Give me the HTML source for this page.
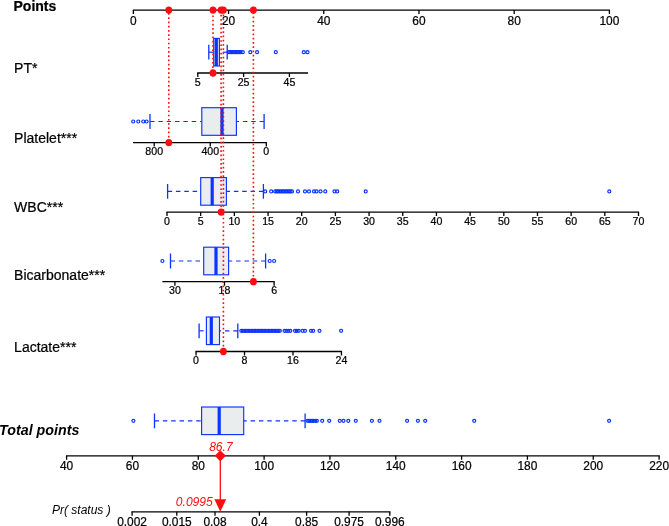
<!DOCTYPE html>
<html><head><meta charset="utf-8"><title>Nomogram</title>
<style>html,body{margin:0;padding:0;background:#fff}svg{display:block}text{font-family:"Liberation Sans",Arial,sans-serif;stroke-width:0.22px;paint-order:stroke}</style>
</head><body>
<svg width="669" height="526" viewBox="0 0 669 526">
<rect width="669" height="526" fill="#fff"/>
<text x="13.5" y="10.6" font-size="14" fill="#000" stroke="#000" font-weight="bold">Points</text>
<text x="14.1" y="73.2" font-size="14" fill="#000" stroke="#000" >PT*</text>
<text x="14.1" y="143.0" font-size="14" fill="#000" stroke="#000" >Platelet***</text>
<text x="14.1" y="211.7" font-size="14" fill="#000" stroke="#000" >WBC***</text>
<text x="14.1" y="280.3" font-size="14" fill="#000" stroke="#000" >Bicarbonate***</text>
<text x="14.1" y="351.6" font-size="14" fill="#000" stroke="#000" >Lactate***</text>
<text x="-0.9" y="434.7" font-size="14.25" fill="#000" font-weight="bold" font-style="italic">Total points</text>
<text x="52" y="513.8" font-size="12" fill="#000" font-style="italic">Pr( status )</text>
<path d="M132.80 10.10H609.95" stroke="#000" stroke-width="1.3" fill="none"/>
<path d="M133.35 10.10v4.0M228.56 10.10v4.0M323.77 10.10v4.0M418.98 10.10v4.0M514.19 10.10v4.0M609.40 10.10v4.0" stroke="#000" stroke-width="1.3" fill="none"/>
<path d="M197.20 73.00H308.00" stroke="#000" stroke-width="1.3" fill="none"/>
<path d="M197.80 73.00v4.0M243.60 73.00v4.0M289.40 73.00v4.0" stroke="#000" stroke-width="1.3" fill="none"/>
<path d="M133.00 142.60H266.90" stroke="#000" stroke-width="1.3" fill="none"/>
<path d="M154.20 142.60v4.0M210.25 142.60v4.0M266.30 142.60v4.0" stroke="#000" stroke-width="1.3" fill="none"/>
<path d="M166.40 212.10H639.10" stroke="#000" stroke-width="1.3" fill="none"/>
<path d="M167.00 212.10v4.0M200.68 212.10v4.0M234.36 212.10v4.0M268.04 212.10v4.0M301.71 212.10v4.0M335.39 212.10v4.0M369.07 212.10v4.0M402.75 212.10v4.0M436.43 212.10v4.0M470.11 212.10v4.0M503.79 212.10v4.0M537.46 212.10v4.0M571.14 212.10v4.0M604.82 212.10v4.0M638.50 212.10v4.0" stroke="#000" stroke-width="1.3" fill="none"/>
<path d="M162.40 281.70H274.70" stroke="#000" stroke-width="1.3" fill="none"/>
<path d="M174.90 281.70v4.0M224.50 281.70v4.0M274.10 281.70v4.0" stroke="#000" stroke-width="1.3" fill="none"/>
<path d="M195.50 351.50H342.00" stroke="#000" stroke-width="1.3" fill="none"/>
<path d="M196.05 351.50v4.0M244.52 351.50v4.0M292.98 351.50v4.0M341.45 351.50v4.0" stroke="#000" stroke-width="1.3" fill="none"/>
<path d="M66.00 455.85H659.70" stroke="#000" stroke-width="1.3" fill="none"/>
<path d="M66.60 455.85v4.0M132.43 455.85v4.0M198.27 455.85v4.0M264.10 455.85v4.0M329.93 455.85v4.0M395.77 455.85v4.0M461.60 455.85v4.0M527.43 455.85v4.0M593.27 455.85v4.0M659.10 455.85v4.0" stroke="#000" stroke-width="1.3" fill="none"/>
<path d="M131.50 511.80H390.40" stroke="#000" stroke-width="1.3" fill="none"/>
<path d="M132.10 511.80v4.0M176.80 511.80v4.0M215.00 511.80v4.0M259.40 511.80v4.0M306.60 511.80v4.0M349.10 511.80v4.0M389.80 511.80v4.0" stroke="#000" stroke-width="1.3" fill="none"/>
<path d="M208.80 52.20H213.70" stroke="#0c33ff" stroke-width="1.15" stroke-dasharray="4.5 3.84" fill="none"/>
<path d="M227.20 52.20H219.40" stroke="#0c33ff" stroke-width="1.15" stroke-dasharray="4.5 3.84" fill="none"/>
<path d="M208.80 44.80v14.8M227.20 44.80v14.8" stroke="#0c33ff" stroke-width="1.3" fill="none"/>
<rect x="213.70" y="38.40" width="5.70" height="27.6" fill="#eaedee" stroke="#0c33ff" stroke-width="1.15"/>
<path d="M216.30 38.40v27.6" stroke="#0c33ff" stroke-width="3.2" fill="none"/>
<circle cx="228.80" cy="52.20" r="1.5" fill="none" stroke="#0c33ff" stroke-width="1.2"/>
<circle cx="230.11" cy="52.20" r="1.5" fill="none" stroke="#0c33ff" stroke-width="1.2"/>
<circle cx="231.42" cy="52.20" r="1.5" fill="none" stroke="#0c33ff" stroke-width="1.2"/>
<circle cx="232.73" cy="52.20" r="1.5" fill="none" stroke="#0c33ff" stroke-width="1.2"/>
<circle cx="234.04" cy="52.20" r="1.5" fill="none" stroke="#0c33ff" stroke-width="1.2"/>
<circle cx="235.36" cy="52.20" r="1.5" fill="none" stroke="#0c33ff" stroke-width="1.2"/>
<circle cx="236.67" cy="52.20" r="1.5" fill="none" stroke="#0c33ff" stroke-width="1.2"/>
<circle cx="237.98" cy="52.20" r="1.5" fill="none" stroke="#0c33ff" stroke-width="1.2"/>
<circle cx="239.29" cy="52.20" r="1.5" fill="none" stroke="#0c33ff" stroke-width="1.2"/>
<circle cx="240.60" cy="52.20" r="1.5" fill="none" stroke="#0c33ff" stroke-width="1.2"/>
<circle cx="242.80" cy="52.20" r="1.5" fill="none" stroke="#0c33ff" stroke-width="1.2"/>
<circle cx="250.30" cy="52.20" r="1.5" fill="none" stroke="#0c33ff" stroke-width="1.2"/>
<circle cx="257.10" cy="52.20" r="1.5" fill="none" stroke="#0c33ff" stroke-width="1.2"/>
<circle cx="275.80" cy="52.20" r="1.5" fill="none" stroke="#0c33ff" stroke-width="1.2"/>
<circle cx="303.80" cy="52.20" r="1.5" fill="none" stroke="#0c33ff" stroke-width="1.2"/>
<circle cx="307.50" cy="52.20" r="1.5" fill="none" stroke="#0c33ff" stroke-width="1.2"/>
<path d="M150.00 121.50H201.80" stroke="#0c33ff" stroke-width="1.15" stroke-dasharray="4.5 3.84" fill="none"/>
<path d="M264.10 121.50H236.40" stroke="#0c33ff" stroke-width="1.15" stroke-dasharray="4.5 3.84" fill="none"/>
<path d="M150.00 114.10v14.8M264.10 114.10v14.8" stroke="#0c33ff" stroke-width="1.3" fill="none"/>
<rect x="201.80" y="107.70" width="34.60" height="27.6" fill="#eaedee" stroke="#0c33ff" stroke-width="1.15"/>
<path d="M222.00 107.70v27.6" stroke="#0c33ff" stroke-width="3.2" fill="none"/>
<circle cx="133.20" cy="121.50" r="1.5" fill="none" stroke="#0c33ff" stroke-width="1.2"/>
<circle cx="138.30" cy="121.50" r="1.5" fill="none" stroke="#0c33ff" stroke-width="1.2"/>
<circle cx="143.30" cy="121.50" r="1.5" fill="none" stroke="#0c33ff" stroke-width="1.2"/>
<circle cx="146.60" cy="121.50" r="1.5" fill="none" stroke="#0c33ff" stroke-width="1.2"/>
<path d="M167.60 191.40H200.70" stroke="#0c33ff" stroke-width="1.15" stroke-dasharray="4.5 3.84" fill="none"/>
<path d="M263.40 191.40H226.40" stroke="#0c33ff" stroke-width="1.15" stroke-dasharray="4.5 3.84" fill="none"/>
<path d="M167.60 184.00v14.8M263.40 184.00v14.8" stroke="#0c33ff" stroke-width="1.3" fill="none"/>
<rect x="200.70" y="177.60" width="25.70" height="27.6" fill="#eaedee" stroke="#0c33ff" stroke-width="1.15"/>
<path d="M212.20 177.60v27.6" stroke="#0c33ff" stroke-width="3.2" fill="none"/>
<circle cx="265.20" cy="191.40" r="1.5" fill="none" stroke="#0c33ff" stroke-width="1.2"/>
<circle cx="271.20" cy="191.40" r="1.5" fill="none" stroke="#0c33ff" stroke-width="1.2"/>
<circle cx="275.20" cy="191.40" r="1.5" fill="none" stroke="#0c33ff" stroke-width="1.2"/>
<circle cx="276.73" cy="191.40" r="1.5" fill="none" stroke="#0c33ff" stroke-width="1.2"/>
<circle cx="278.25" cy="191.40" r="1.5" fill="none" stroke="#0c33ff" stroke-width="1.2"/>
<circle cx="279.78" cy="191.40" r="1.5" fill="none" stroke="#0c33ff" stroke-width="1.2"/>
<circle cx="281.31" cy="191.40" r="1.5" fill="none" stroke="#0c33ff" stroke-width="1.2"/>
<circle cx="282.84" cy="191.40" r="1.5" fill="none" stroke="#0c33ff" stroke-width="1.2"/>
<circle cx="284.36" cy="191.40" r="1.5" fill="none" stroke="#0c33ff" stroke-width="1.2"/>
<circle cx="285.89" cy="191.40" r="1.5" fill="none" stroke="#0c33ff" stroke-width="1.2"/>
<circle cx="287.42" cy="191.40" r="1.5" fill="none" stroke="#0c33ff" stroke-width="1.2"/>
<circle cx="288.95" cy="191.40" r="1.5" fill="none" stroke="#0c33ff" stroke-width="1.2"/>
<circle cx="290.47" cy="191.40" r="1.5" fill="none" stroke="#0c33ff" stroke-width="1.2"/>
<circle cx="292.00" cy="191.40" r="1.5" fill="none" stroke="#0c33ff" stroke-width="1.2"/>
<circle cx="298.00" cy="191.40" r="1.5" fill="none" stroke="#0c33ff" stroke-width="1.2"/>
<circle cx="305.00" cy="191.40" r="1.5" fill="none" stroke="#0c33ff" stroke-width="1.2"/>
<circle cx="309.00" cy="191.40" r="1.5" fill="none" stroke="#0c33ff" stroke-width="1.2"/>
<circle cx="314.00" cy="191.40" r="1.5" fill="none" stroke="#0c33ff" stroke-width="1.2"/>
<circle cx="316.50" cy="191.40" r="1.5" fill="none" stroke="#0c33ff" stroke-width="1.2"/>
<circle cx="320.50" cy="191.40" r="1.5" fill="none" stroke="#0c33ff" stroke-width="1.2"/>
<circle cx="325.30" cy="191.40" r="1.5" fill="none" stroke="#0c33ff" stroke-width="1.2"/>
<circle cx="334.50" cy="191.40" r="1.5" fill="none" stroke="#0c33ff" stroke-width="1.2"/>
<circle cx="337.20" cy="191.40" r="1.5" fill="none" stroke="#0c33ff" stroke-width="1.2"/>
<circle cx="365.70" cy="191.40" r="1.5" fill="none" stroke="#0c33ff" stroke-width="1.2"/>
<circle cx="609.30" cy="191.40" r="1.5" fill="none" stroke="#0c33ff" stroke-width="1.2"/>
<path d="M170.50 261.00H203.70" stroke="#0c33ff" stroke-width="1.15" stroke-dasharray="4.5 3.84" fill="none"/>
<path d="M265.60 261.00H228.60" stroke="#0c33ff" stroke-width="1.15" stroke-dasharray="4.5 3.84" fill="none"/>
<path d="M170.50 253.60v14.8M265.60 253.60v14.8" stroke="#0c33ff" stroke-width="1.3" fill="none"/>
<rect x="203.70" y="247.20" width="24.90" height="27.6" fill="#eaedee" stroke="#0c33ff" stroke-width="1.15"/>
<path d="M216.00 247.20v27.6" stroke="#0c33ff" stroke-width="3.2" fill="none"/>
<circle cx="162.40" cy="261.00" r="1.5" fill="none" stroke="#0c33ff" stroke-width="1.2"/>
<circle cx="269.70" cy="261.00" r="1.5" fill="none" stroke="#0c33ff" stroke-width="1.2"/>
<circle cx="274.10" cy="261.00" r="1.5" fill="none" stroke="#0c33ff" stroke-width="1.2"/>
<path d="M199.10 330.80H206.40" stroke="#0c33ff" stroke-width="1.15" stroke-dasharray="4.5 3.84" fill="none"/>
<path d="M237.80 330.80H219.50" stroke="#0c33ff" stroke-width="1.15" stroke-dasharray="4.5 3.84" fill="none"/>
<path d="M199.10 323.40v14.8M237.80 323.40v14.8" stroke="#0c33ff" stroke-width="1.3" fill="none"/>
<rect x="206.40" y="317.00" width="13.10" height="27.6" fill="#eaedee" stroke="#0c33ff" stroke-width="1.15"/>
<path d="M211.30 317.00v27.6" stroke="#0c33ff" stroke-width="3.2" fill="none"/>
<circle cx="241.30" cy="330.80" r="1.5" fill="none" stroke="#0c33ff" stroke-width="1.2"/>
<circle cx="242.73" cy="330.80" r="1.5" fill="none" stroke="#0c33ff" stroke-width="1.2"/>
<circle cx="244.16" cy="330.80" r="1.5" fill="none" stroke="#0c33ff" stroke-width="1.2"/>
<circle cx="245.59" cy="330.80" r="1.5" fill="none" stroke="#0c33ff" stroke-width="1.2"/>
<circle cx="247.02" cy="330.80" r="1.5" fill="none" stroke="#0c33ff" stroke-width="1.2"/>
<circle cx="248.45" cy="330.80" r="1.5" fill="none" stroke="#0c33ff" stroke-width="1.2"/>
<circle cx="249.88" cy="330.80" r="1.5" fill="none" stroke="#0c33ff" stroke-width="1.2"/>
<circle cx="251.31" cy="330.80" r="1.5" fill="none" stroke="#0c33ff" stroke-width="1.2"/>
<circle cx="252.74" cy="330.80" r="1.5" fill="none" stroke="#0c33ff" stroke-width="1.2"/>
<circle cx="254.17" cy="330.80" r="1.5" fill="none" stroke="#0c33ff" stroke-width="1.2"/>
<circle cx="255.60" cy="330.80" r="1.5" fill="none" stroke="#0c33ff" stroke-width="1.2"/>
<circle cx="257.03" cy="330.80" r="1.5" fill="none" stroke="#0c33ff" stroke-width="1.2"/>
<circle cx="258.46" cy="330.80" r="1.5" fill="none" stroke="#0c33ff" stroke-width="1.2"/>
<circle cx="259.89" cy="330.80" r="1.5" fill="none" stroke="#0c33ff" stroke-width="1.2"/>
<circle cx="261.31" cy="330.80" r="1.5" fill="none" stroke="#0c33ff" stroke-width="1.2"/>
<circle cx="262.74" cy="330.80" r="1.5" fill="none" stroke="#0c33ff" stroke-width="1.2"/>
<circle cx="264.17" cy="330.80" r="1.5" fill="none" stroke="#0c33ff" stroke-width="1.2"/>
<circle cx="265.60" cy="330.80" r="1.5" fill="none" stroke="#0c33ff" stroke-width="1.2"/>
<circle cx="267.03" cy="330.80" r="1.5" fill="none" stroke="#0c33ff" stroke-width="1.2"/>
<circle cx="268.46" cy="330.80" r="1.5" fill="none" stroke="#0c33ff" stroke-width="1.2"/>
<circle cx="269.89" cy="330.80" r="1.5" fill="none" stroke="#0c33ff" stroke-width="1.2"/>
<circle cx="271.32" cy="330.80" r="1.5" fill="none" stroke="#0c33ff" stroke-width="1.2"/>
<circle cx="272.75" cy="330.80" r="1.5" fill="none" stroke="#0c33ff" stroke-width="1.2"/>
<circle cx="274.18" cy="330.80" r="1.5" fill="none" stroke="#0c33ff" stroke-width="1.2"/>
<circle cx="275.61" cy="330.80" r="1.5" fill="none" stroke="#0c33ff" stroke-width="1.2"/>
<circle cx="277.04" cy="330.80" r="1.5" fill="none" stroke="#0c33ff" stroke-width="1.2"/>
<circle cx="278.47" cy="330.80" r="1.5" fill="none" stroke="#0c33ff" stroke-width="1.2"/>
<circle cx="279.90" cy="330.80" r="1.5" fill="none" stroke="#0c33ff" stroke-width="1.2"/>
<circle cx="284.60" cy="330.80" r="1.5" fill="none" stroke="#0c33ff" stroke-width="1.2"/>
<circle cx="286.50" cy="330.80" r="1.5" fill="none" stroke="#0c33ff" stroke-width="1.2"/>
<circle cx="288.40" cy="330.80" r="1.5" fill="none" stroke="#0c33ff" stroke-width="1.2"/>
<circle cx="290.30" cy="330.80" r="1.5" fill="none" stroke="#0c33ff" stroke-width="1.2"/>
<circle cx="295.00" cy="330.80" r="1.5" fill="none" stroke="#0c33ff" stroke-width="1.2"/>
<circle cx="296.80" cy="330.80" r="1.5" fill="none" stroke="#0c33ff" stroke-width="1.2"/>
<circle cx="298.70" cy="330.80" r="1.5" fill="none" stroke="#0c33ff" stroke-width="1.2"/>
<circle cx="302.50" cy="330.80" r="1.5" fill="none" stroke="#0c33ff" stroke-width="1.2"/>
<circle cx="305.00" cy="330.80" r="1.5" fill="none" stroke="#0c33ff" stroke-width="1.2"/>
<circle cx="311.00" cy="330.80" r="1.5" fill="none" stroke="#0c33ff" stroke-width="1.2"/>
<circle cx="313.20" cy="330.80" r="1.5" fill="none" stroke="#0c33ff" stroke-width="1.2"/>
<circle cx="319.50" cy="330.80" r="1.5" fill="none" stroke="#0c33ff" stroke-width="1.2"/>
<circle cx="341.10" cy="330.80" r="1.5" fill="none" stroke="#0c33ff" stroke-width="1.2"/>
<path d="M154.50 420.80H201.60" stroke="#0c33ff" stroke-width="1.15" stroke-dasharray="4.5 3.84" fill="none"/>
<path d="M305.10 420.80H243.70" stroke="#0c33ff" stroke-width="1.15" stroke-dasharray="4.5 3.84" fill="none"/>
<path d="M154.50 413.40v14.8M305.10 413.40v14.8" stroke="#0c33ff" stroke-width="1.3" fill="none"/>
<rect x="201.60" y="407.00" width="42.10" height="27.6" fill="#eaedee" stroke="#0c33ff" stroke-width="1.15"/>
<path d="M219.20 407.00v27.6" stroke="#0c33ff" stroke-width="3.2" fill="none"/>
<circle cx="133.40" cy="420.80" r="1.5" fill="none" stroke="#0c33ff" stroke-width="1.2"/>
<circle cx="307.60" cy="420.80" r="1.5" fill="none" stroke="#0c33ff" stroke-width="1.2"/>
<circle cx="309.15" cy="420.80" r="1.5" fill="none" stroke="#0c33ff" stroke-width="1.2"/>
<circle cx="310.70" cy="420.80" r="1.5" fill="none" stroke="#0c33ff" stroke-width="1.2"/>
<circle cx="312.25" cy="420.80" r="1.5" fill="none" stroke="#0c33ff" stroke-width="1.2"/>
<circle cx="313.80" cy="420.80" r="1.5" fill="none" stroke="#0c33ff" stroke-width="1.2"/>
<circle cx="315.35" cy="420.80" r="1.5" fill="none" stroke="#0c33ff" stroke-width="1.2"/>
<circle cx="316.90" cy="420.80" r="1.5" fill="none" stroke="#0c33ff" stroke-width="1.2"/>
<circle cx="322.20" cy="420.80" r="1.5" fill="none" stroke="#0c33ff" stroke-width="1.2"/>
<circle cx="329.20" cy="420.80" r="1.5" fill="none" stroke="#0c33ff" stroke-width="1.2"/>
<circle cx="339.80" cy="420.80" r="1.5" fill="none" stroke="#0c33ff" stroke-width="1.2"/>
<circle cx="343.50" cy="420.80" r="1.5" fill="none" stroke="#0c33ff" stroke-width="1.2"/>
<circle cx="348.30" cy="420.80" r="1.5" fill="none" stroke="#0c33ff" stroke-width="1.2"/>
<circle cx="355.80" cy="420.80" r="1.5" fill="none" stroke="#0c33ff" stroke-width="1.2"/>
<circle cx="371.90" cy="420.80" r="1.5" fill="none" stroke="#0c33ff" stroke-width="1.2"/>
<circle cx="379.50" cy="420.80" r="1.5" fill="none" stroke="#0c33ff" stroke-width="1.2"/>
<circle cx="407.10" cy="420.80" r="1.5" fill="none" stroke="#0c33ff" stroke-width="1.2"/>
<circle cx="417.90" cy="420.80" r="1.5" fill="none" stroke="#0c33ff" stroke-width="1.2"/>
<circle cx="425.20" cy="420.80" r="1.5" fill="none" stroke="#0c33ff" stroke-width="1.2"/>
<circle cx="474.20" cy="420.80" r="1.5" fill="none" stroke="#0c33ff" stroke-width="1.2"/>
<circle cx="609.10" cy="420.80" r="1.5" fill="none" stroke="#0c33ff" stroke-width="1.2"/>
<path d="M168.80 141.75V10.10" stroke="#ff0c10" stroke-width="1.6" stroke-dasharray="1.7 2.535" fill="none"/>
<path d="M213.00 72.15V10.10" stroke="#ff0c10" stroke-width="1.6" stroke-dasharray="1.7 2.535" fill="none"/>
<path d="M221.10 211.25V10.10" stroke="#ff0c10" stroke-width="1.6" stroke-dasharray="1.7 2.535" fill="none"/>
<path d="M223.40 350.65V10.10" stroke="#ff0c10" stroke-width="1.6" stroke-dasharray="1.7 2.535" fill="none"/>
<path d="M253.40 280.85V10.10" stroke="#ff0c10" stroke-width="1.6" stroke-dasharray="1.7 2.535" fill="none"/>
<text x="133.35" y="24.50" font-size="11.9" text-anchor="middle" fill="#000" stroke="#000">0</text>
<text x="228.56" y="24.50" font-size="11.9" text-anchor="middle" fill="#000" stroke="#000">20</text>
<text x="323.77" y="24.50" font-size="11.9" text-anchor="middle" fill="#000" stroke="#000">40</text>
<text x="418.98" y="24.50" font-size="11.9" text-anchor="middle" fill="#000" stroke="#000">60</text>
<text x="514.19" y="24.50" font-size="11.9" text-anchor="middle" fill="#000" stroke="#000">80</text>
<text x="609.40" y="24.50" font-size="11.9" text-anchor="middle" fill="#000" stroke="#000">100</text>
<text x="197.80" y="85.90" font-size="10.6" text-anchor="middle" fill="#000" stroke="#000">5</text>
<text x="243.60" y="85.90" font-size="10.6" text-anchor="middle" fill="#000" stroke="#000">25</text>
<text x="289.40" y="85.90" font-size="10.6" text-anchor="middle" fill="#000" stroke="#000">45</text>
<text x="154.20" y="154.75" font-size="10.6" text-anchor="middle" fill="#000" stroke="#000">800</text>
<text x="210.25" y="154.75" font-size="10.6" text-anchor="middle" fill="#000" stroke="#000">400</text>
<text x="266.30" y="154.75" font-size="10.6" text-anchor="middle" fill="#000" stroke="#000">0</text>
<text x="167.00" y="224.90" font-size="10.6" text-anchor="middle" fill="#000" stroke="#000">0</text>
<text x="200.68" y="224.90" font-size="10.6" text-anchor="middle" fill="#000" stroke="#000">5</text>
<text x="234.36" y="224.90" font-size="10.6" text-anchor="middle" fill="#000" stroke="#000">10</text>
<text x="268.04" y="224.90" font-size="10.6" text-anchor="middle" fill="#000" stroke="#000">15</text>
<text x="301.71" y="224.90" font-size="10.6" text-anchor="middle" fill="#000" stroke="#000">20</text>
<text x="335.39" y="224.90" font-size="10.6" text-anchor="middle" fill="#000" stroke="#000">25</text>
<text x="369.07" y="224.90" font-size="10.6" text-anchor="middle" fill="#000" stroke="#000">30</text>
<text x="402.75" y="224.90" font-size="10.6" text-anchor="middle" fill="#000" stroke="#000">35</text>
<text x="436.43" y="224.90" font-size="10.6" text-anchor="middle" fill="#000" stroke="#000">40</text>
<text x="470.11" y="224.90" font-size="10.6" text-anchor="middle" fill="#000" stroke="#000">45</text>
<text x="503.79" y="224.90" font-size="10.6" text-anchor="middle" fill="#000" stroke="#000">50</text>
<text x="537.46" y="224.90" font-size="10.6" text-anchor="middle" fill="#000" stroke="#000">55</text>
<text x="571.14" y="224.90" font-size="10.6" text-anchor="middle" fill="#000" stroke="#000">60</text>
<text x="604.82" y="224.90" font-size="10.6" text-anchor="middle" fill="#000" stroke="#000">65</text>
<text x="638.50" y="224.90" font-size="10.6" text-anchor="middle" fill="#000" stroke="#000">70</text>
<text x="174.90" y="294.10" font-size="10.6" text-anchor="middle" fill="#000" stroke="#000">30</text>
<text x="224.50" y="294.10" font-size="10.6" text-anchor="middle" fill="#000" stroke="#000">18</text>
<text x="274.10" y="294.10" font-size="10.6" text-anchor="middle" fill="#000" stroke="#000">6</text>
<text x="196.05" y="363.90" font-size="10.6" text-anchor="middle" fill="#000" stroke="#000">0</text>
<text x="244.52" y="363.90" font-size="10.6" text-anchor="middle" fill="#000" stroke="#000">8</text>
<text x="292.98" y="363.90" font-size="10.6" text-anchor="middle" fill="#000" stroke="#000">16</text>
<text x="341.45" y="363.90" font-size="10.6" text-anchor="middle" fill="#000" stroke="#000">24</text>
<text x="66.60" y="469.85" font-size="11.9" text-anchor="middle" fill="#000" stroke="#000">40</text>
<text x="132.43" y="469.85" font-size="11.9" text-anchor="middle" fill="#000" stroke="#000">60</text>
<text x="198.27" y="469.85" font-size="11.9" text-anchor="middle" fill="#000" stroke="#000">80</text>
<text x="264.10" y="469.85" font-size="11.9" text-anchor="middle" fill="#000" stroke="#000">100</text>
<text x="329.93" y="469.85" font-size="11.9" text-anchor="middle" fill="#000" stroke="#000">120</text>
<text x="395.77" y="469.85" font-size="11.9" text-anchor="middle" fill="#000" stroke="#000">140</text>
<text x="461.60" y="469.85" font-size="11.9" text-anchor="middle" fill="#000" stroke="#000">160</text>
<text x="527.43" y="469.85" font-size="11.9" text-anchor="middle" fill="#000" stroke="#000">180</text>
<text x="593.27" y="469.85" font-size="11.9" text-anchor="middle" fill="#000" stroke="#000">200</text>
<text x="659.10" y="469.85" font-size="11.9" text-anchor="middle" fill="#000" stroke="#000">220</text>
<text x="132.10" y="526.10" font-size="11.9" text-anchor="middle" fill="#000" stroke="#000">0.002</text>
<text x="176.80" y="526.10" font-size="11.9" text-anchor="middle" fill="#000" stroke="#000">0.015</text>
<text x="215.00" y="526.10" font-size="11.9" text-anchor="middle" fill="#000" stroke="#000">0.08</text>
<text x="259.40" y="526.10" font-size="11.9" text-anchor="middle" fill="#000" stroke="#000">0.4</text>
<text x="306.60" y="526.10" font-size="11.9" text-anchor="middle" fill="#000" stroke="#000">0.85</text>
<text x="349.10" y="526.10" font-size="11.9" text-anchor="middle" fill="#000" stroke="#000">0.975</text>
<text x="389.80" y="526.10" font-size="11.9" text-anchor="middle" fill="#000" stroke="#000">0.996</text>
<ellipse cx="168.80" cy="10.1" rx="3.45" ry="3.65" fill="#ff0c10"/>
<ellipse cx="168.80" cy="142.60" rx="3.45" ry="3.65" fill="#ff0c10"/>
<ellipse cx="213.00" cy="10.1" rx="3.45" ry="3.65" fill="#ff0c10"/>
<ellipse cx="213.00" cy="73.00" rx="3.45" ry="3.65" fill="#ff0c10"/>
<ellipse cx="221.10" cy="10.1" rx="3.45" ry="3.65" fill="#ff0c10"/>
<ellipse cx="221.10" cy="212.10" rx="3.45" ry="3.65" fill="#ff0c10"/>
<ellipse cx="223.40" cy="10.1" rx="3.45" ry="3.65" fill="#ff0c10"/>
<ellipse cx="223.40" cy="351.50" rx="3.45" ry="3.65" fill="#ff0c10"/>
<ellipse cx="253.40" cy="10.1" rx="3.45" ry="3.65" fill="#ff0c10"/>
<ellipse cx="253.40" cy="281.70" rx="3.45" ry="3.65" fill="#ff0c10"/>
<path d="M220.3 456V503" stroke="#ff0c10" stroke-width="1.3" fill="none"/>
<path d="M214.70000000000002 455.75L220.3 450.15L225.9 455.75L220.3 461.35Z" fill="#ff0c10"/>
<path d="M214.4 499.3H226.20000000000002L220.3 511.7Z" fill="#ff0c10"/>
<text x="220.9" y="451.0" font-size="12.1" text-anchor="middle" font-style="italic" fill="#ff0c10">86.7</text>
<text x="212.8" y="505.5" font-size="12.1" text-anchor="end" font-style="italic" fill="#ff0c10">0.0995</text>
</svg></body></html>
